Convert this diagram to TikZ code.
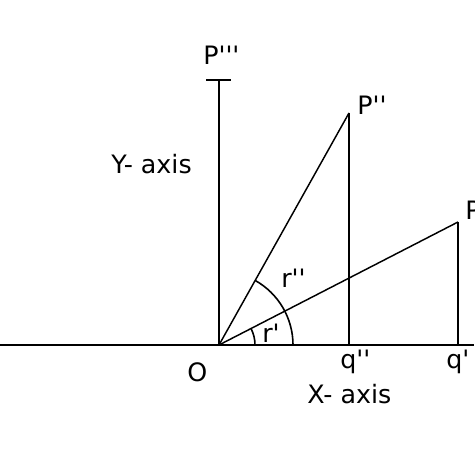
\documentclass[tikz,border=0pt]{standalone}
\usepackage{fontspec}
\setmainfont{DejaVu Sans}
\usetikzlibrary{calc}
\newcommand\pq{\textquotesingle}
\begin{document}
\begin{tikzpicture}[x=0.75pt,y=-0.75pt,
  lbl/.style={inner sep=0pt, anchor=base west, font=\fontsize{19}{21}\selectfont},
  axisline/.style={line width=1.6pt},
  ray/.style={line width=1.1pt},
  angarc/.style={line width=1.2pt}]
\useasboundingbox (0,0) rectangle (474,474);
% points
\coordinate (O) at (219,345);
\coordinate (L) at (0,345);
\coordinate (R) at (474,345);
\coordinate (P3) at (219,80);
\coordinate (P3a) at (206,80);
\coordinate (P3b) at (231,80);
\coordinate (P2) at (349,113);
\coordinate (Q2) at (349,345);
\coordinate (P1) at (458,222);
\coordinate (Q1) at (458,345);
% axes
\draw[axisline] (L) -- (R);
\draw[axisline] (O) -- (P3);
\draw[axisline] (P3a) -- (P3b);
% rays and perpendiculars
\draw[ray] (O) -- (P2);
\draw[ray] (O) -- (P1);
\draw[axisline] (P2) -- (Q2);
\draw[axisline] (P1) -- (Q1);
% angle arcs
\draw[angarc] ($(O)+(-60.7:74)$) arc[start angle=-60.7, end angle=0, radius=74];
\draw[angarc] ($(O)+(-27.2:36)$) arc[start angle=-27.2, end angle=0, radius=36];
% labels
\node[lbl] (tP3) at (203,65) {P\pq\pq\pq};
\node[lbl] (tP2) at (357,115) {P\pq\pq};
\node[lbl] (tP1) at (465,219) {P\pq};
\node[lbl] (tY) at (111,173) {Y- axis};
\node[lbl] (tO) at (187,381) {O};
\node[lbl] (tq2) at (340,368) {q\pq\pq};
\node[lbl] (tq1) at (446,368) {q\pq};
\node[lbl] (tX) at (307,403) {X- axis};
\node[lbl] (tr2) at (281,287) {r\pq\pq};
\node[lbl] (tr1) at (262,342) {r\pq};
\end{tikzpicture}
\end{document}
